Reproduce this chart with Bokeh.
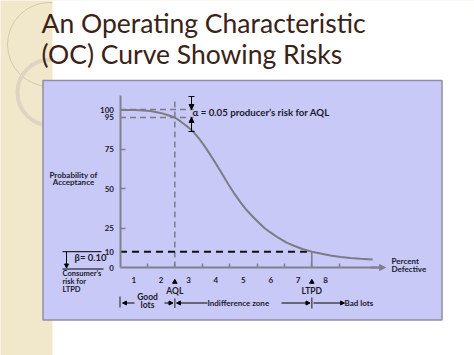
from bokeh.plotting import figure
from bokeh.models import (LinearAxis, FixedTicker, Label, Arrow, NormalHead)
from bokeh.embed import file_html
from bokeh.resources import INLINE

# ---------------- data ----------------
pct_defective = [0.52, 1.07, 1.61, 1.98, 2.23, 2.50, 2.71, 2.93, 3.15, 3.37,
                 3.58, 3.80, 4.02, 4.24, 4.46, 4.68, 4.90, 5.12, 5.34, 5.56,
                 5.77, 5.99, 6.29, 6.58, 6.87, 7.16, 7.50, 7.82, 8.18, 8.55,
                 8.91, 9.28, 9.72]
prob_accept = [99.8, 99.7, 99.1, 97.9, 96.6, 95.0, 92.5, 89.6, 86.5, 82.0,
               77.0, 71.3, 65.2, 58.9, 52.6, 46.6, 41.2, 36.4, 32.3, 28.5,
               25.0, 22.2, 18.7, 15.8, 13.6, 11.7, 10.0, 8.9, 7.6, 6.7,
               6.0, 5.5, 5.1]
x_tick_pos = [1, 2, 3, 4, 5, 6, 7, 8]
x_tick_labels = ["1", "2", "3", "4", "5", "6", "7", "8"]
x_tick_marks = [1.5, 2.5, 3.5, 4.5, 5.5, 6.5, 7.5, 8.5]
y_tick_pos = [0, 10, 25, 50, 75, 95, 100]
y_tick_marks = [25, 50, 75]
AQL = 2.5
LTPD = 7.5
ALPHA_TOP = 100
ALPHA_LEVEL = 95
BETA_LEVEL = 10
X_ORIGIN = 0.5

W, H = 474, 355
# pixel <-> data mapping (layout helpers)
XS, X0PX = 27.4, 119.5
YS, Y0PX = 1.579, 267.0
def X(px):
    return X_ORIGIN + (px - X0PX) / XS
def Y(py):
    return (Y0PX - py) / YS

p = figure(width=W, height=H, x_range=(X(0), X(W)), y_range=(Y(H), Y(0)),
           x_axis_type=None, y_axis_type=None, toolbar_location=None,
           output_backend="svg", min_border=0)
p.outline_line_color = None
p.grid.visible = False
p.background_fill_color = "#f1e7ca"
p.border_fill_color = "#f1e7ca"

# decorative circles in the strip
p.scatter(x=[X(49)], y=[Y(44)], size=84, marker="circle", fill_color=None,
          line_color="#d2c8b0", line_width=1)
p.scatter(x=[X(50)], y=[Y(92)], size=66, marker="circle", fill_color=None,
          line_color="#ddd5c2", line_width=4)
# white slide area
p.quad(left=[X(52)], right=[X(W + 5)], bottom=[Y(H + 5)], top=[Y(-5)],
       fill_color="white", line_color=None)
# lavender panel
p.quad(left=[X(42.5)], right=[X(441.5)], bottom=[Y(319.5)], top=[Y(80)],
       fill_color="#c9c9f8", line_color="#8e8ea6", line_width=1.5)

# title
TITLE_COLOR = "#3a2217"
for txt, base in [("An Operating Characteristic", 22), ("(OC) Curve Showing Risks", 53)]:
    p.add_layout(Label(x=X(41), y=Y(base), text=txt, text_font="Lato",
                       text_font_size="26.5px", text_color=TITLE_COLOR,
                       text_baseline="alphabetic", text_align="left"))

# ---------------- axes ----------------
AX_COL = "#80808e"
TXT = "#1a1a2c"
xax = LinearAxis(fixed_location=0, bounds=(X_ORIGIN, X(383)),
                 ticker=FixedTicker(ticks=x_tick_pos, minor_ticks=x_tick_marks),
                 major_label_overrides={k: v for k, v in zip(x_tick_pos, x_tick_labels)})
xax.axis_line_color = AX_COL
xax.axis_line_width = 2
xax.major_tick_line_color = None
xax.minor_tick_line_color = AX_COL
xax.minor_tick_line_width = 1.5
xax.minor_tick_in = 4
xax.minor_tick_out = 0
xax.major_label_standoff = 3
xax.major_label_text_font = "Lato"
xax.major_label_text_font_style = "bold"
xax.major_label_text_font_size = "8px"
xax.major_label_text_color = TXT
p.add_layout(xax, "below")

yax = LinearAxis(fixed_location=X_ORIGIN, bounds=(0, Y(95)),
                 ticker=FixedTicker(ticks=y_tick_pos, minor_ticks=y_tick_marks))
yax.axis_line_color = AX_COL
yax.axis_line_width = 2
yax.major_tick_line_color = None
yax.major_tick_in = 0
yax.major_tick_out = 0
yax.minor_tick_line_color = AX_COL
yax.minor_tick_line_width = 1.5
yax.minor_tick_in = 5
yax.minor_tick_out = 0
yax.major_label_standoff = 6
yax.major_label_text_font = "Lato"
yax.major_label_text_font_style = "bold"
yax.major_label_text_font_size = "8px"
yax.major_label_text_color = TXT
p.add_layout(yax, "left")

p.add_layout(Arrow(end=NormalHead(size=6, fill_color=AX_COL, line_color=AX_COL),
                   x_start=X(370), y_start=0, x_end=X(385), y_end=0,
                   line_color=AX_COL, line_width=2))

# ---------------- reference lines ----------------
GRAY = "#7a7a88"
p.line([X_ORIGIN, X(193)], [ALPHA_TOP, ALPHA_TOP], line_color=GRAY, line_width=1.5, line_dash="6 4")
p.line([X_ORIGIN, X(193)], [ALPHA_LEVEL, ALPHA_LEVEL], line_color=GRAY, line_width=1.5, line_dash="6 4")
p.line([AQL, AQL], [0, Y(97)], line_color=GRAY, line_width=1.5, line_dash="6 4")
p.line([LTPD, LTPD], [0, BETA_LEVEL], line_color=GRAY, line_width=1.5)
p.line([X_ORIGIN, LTPD], [BETA_LEVEL, BETA_LEVEL], line_color="#111111", line_width=2, line_dash="7 5")

# OC curve
p.line(pct_defective, prob_accept, line_color="#7c7c84", line_width=2)

# alpha arrows + text
def arrow(x0, y0, x1, y1, size=5, col="black", lw=1):
    p.add_layout(Arrow(end=NormalHead(size=size, fill_color=col, line_color=col),
                       x_start=x0, y_start=y0, x_end=x1, y_end=y1,
                       line_color=col, line_width=lw))

arrow(X(191), Y(96), X(191), ALPHA_TOP)
arrow(X(191), Y(131), X(191), ALPHA_LEVEL)
p.line([X(188), X(194)], [Y(96), Y(96)], line_color="black", line_width=1)
p.line([X(188), X(194)], [Y(131), Y(131)], line_color="black", line_width=1)

def lab(x, y, text, size="8px", align="left", base="middle", bold=True):
    p.add_layout(Label(x=x, y=y, text=text, text_font="Lato",
                       text_font_style="bold" if bold else "normal",
                       text_font_size=size, text_color=TXT,
                       text_align=align, text_baseline=base))

lab(X(192), Y(111), "\u03b1 = 0.05 producer\u2019s risk for AQL", size="9.7px")

# beta annotation
p.line([X(62), X(101)], [BETA_LEVEL, BETA_LEVEL], line_color="black", line_width=1)
p.line([X(62), X(103)], [Y(268.5), Y(268.5)], line_color="black", line_width=1)
arrow(X(66), Y(251), X(66), Y(267.5), size=4)
lab(X(74), Y(257), "\u03b2= 0.10", size="9.5px")
lab(X(62), Y(272.5), "Consumer\u2019s", size="7.5px")
lab(X(62), Y(280.5), "risk for", size="7.5px")
lab(X(62), Y(288.5), "LTPD", size="7.5px")

# axis titles
lab(X(73), Y(174), "Probability of", size="8px", align="center")
lab(X(73), Y(181.5), "Acceptance", size="8px", align="center")
lab(X(391), Y(260), "Percent", size="8px")
lab(X(391), Y(268.5), "Defective", size="8px")

# below-axis zones
p.scatter(x=[AQL, LTPD], y=[Y(281.5), Y(281.5)], marker="triangle", size=4.5,
          color="black")
lab(AQL, Y(290), "AQL", size="8.5px", align="center")
lab(LTPD, Y(290), "LTPD", size="8.5px", align="center")
for xv, t, b in [(X_ORIGIN, 296, 307), (AQL, 298, 307.5), (LTPD, 297, 308)]:
    p.line([xv, xv], [Y(t), Y(b)], line_color="#55555f", line_width=1.5)
arrow(X(134), Y(302.5), X(122), Y(302.5), size=4)
arrow(X(164), Y(302.5), X(172.5), Y(302.5), size=4)
arrow(X(207), Y(302.5), X(176), Y(302.5), size=4)
arrow(X(281), Y(302.5), X(309.5), Y(302.5), size=4)
arrow(X(313), Y(302.5), X(344), Y(302.5), size=4)
lab(X(147), Y(296), "Good", size="8.5px", align="center")
lab(X(147), Y(304), "lots", size="8.5px", align="center")
lab(X(207), Y(302.5), "Indifference zone", size="8px")
lab(X(344), Y(302.5), "Bad lots", size="8px")

open("out.html", "w").write(file_html(p, INLINE))
